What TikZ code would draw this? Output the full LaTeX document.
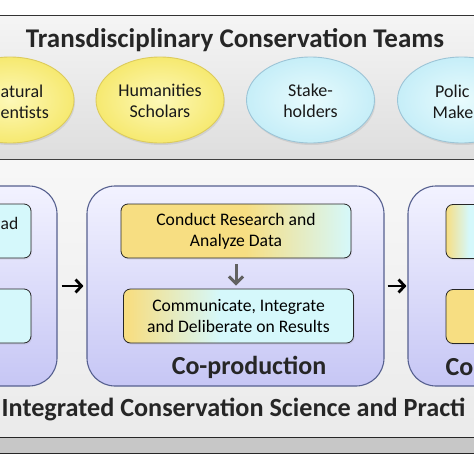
\documentclass[tikz,border=0pt]{standalone}
\usepackage{fontspec}
\setmainfont{Carlito}
\usetikzlibrary{shapes.geometric,shadows,arrows.meta}
\definecolor{yel}{HTML}{F7DE82}
\definecolor{cyn}{HTML}{D5F8FB}
\definecolor{boxline}{HTML}{56608F}
\definecolor{ovy1}{HTML}{FDF8B8}
\definecolor{ovy2}{HTML}{F6E970}
\definecolor{ovyb}{HTML}{DCCB5C}
\definecolor{ovc1}{HTML}{E8FBFD}
\definecolor{ovc2}{HTML}{C6EEF8}
\definecolor{ovcb}{HTML}{9CC4D6}
\pgfdeclarehorizontalshading{ycA}{100bp}{color(0bp)=(yel); color(52bp)=(yel); color(75bp)=(cyn); color(100bp)=(cyn)}
\pgfdeclarehorizontalshading{ycB}{100bp}{color(0bp)=(yel); color(26bp)=(yel); color(46bp)=(cyn); color(100bp)=(cyn)}
\pgfdeclarehorizontalshading{ycC}{100bp}{color(0bp)=(yel); color(25bp)=(yel); color(30bp)=(cyn); color(100bp)=(cyn)}
\tikzset{
  titletext/.style={font=\fontsize{27}{31}\selectfont\bfseries, text=black!85},
  ovaltext/.style={font=\fontsize{18}{21}\selectfont, text=black!90, align=center},
  oval/.style={ellipse, minimum width=128pt, minimum height=86pt, inner sep=0pt, line width=0.9pt,
    drop shadow={opacity=0.18, shadow xshift=1pt, shadow yshift=-2pt}},
  yoval/.style={oval, draw=ovyb, inner color=ovy1, outer color=ovy2},
  coval/.style={oval, draw=ovcb, inner color=ovc1, outer color=ovc2},
  bigbox/.style={rounded corners=28pt, draw=boxline, line width=1.1pt, minimum width=297pt, minimum height=200pt,
    top color=blue!5!white, bottom color=blue!19!white!96!black, inner sep=0pt},
  smallbox/.style={rounded corners=7pt, draw=black!85, line width=0.8pt, minimum width=230pt, minimum height=54pt,
    inner sep=0pt, font=\fontsize{17.6}{21}\selectfont, align=center,
    drop shadow={opacity=0.15, shadow xshift=1pt, shadow yshift=-1.5pt}},
  bigarrow/.style={-{Straight Barb[length=6pt,width=13pt]}, line width=2.8pt, black},
  grayarrow/.style={-{Straight Barb[length=7pt,width=14pt]}, line width=3pt, black!62},
}
\begin{document}
\begin{tikzpicture}[x=1pt,y=-1pt]
\useasboundingbox (0,0) rectangle (474,474);
\clip (0,0) rectangle (474,474);
% backgrounds
\fill[white] (0,0) rectangle (474,474);
\shade[top color=black!3, bottom color=black!8] (0,159) rectangle (474,437);
\shade[top color=black!4, bottom color=black!13] (0,15) rectangle (474,159);
\draw[black!80, line width=1pt] (0,15) -- (474,15);
\draw[black!75, line width=1pt] (0,159) -- (474,159);
\fill[black!22] (0,437) rectangle (474,453);
\draw[black!85, line width=1pt] (0,437) -- (474,437);
\draw[black!85, line width=1pt] (0,453) -- (474,453);

% top panel
\node[titletext] (ttitle) at (235,40) {Transdisciplinary Conservation Teams};
\node[yoval] (nat) at (10,100) {};
\node[yoval] (hum) at (160,100) {};
\node[coval] (stk) at (310.5,100) {};
\node[coval] (pol) at (461.5,100) {};
\node[ovaltext, anchor=west, inner sep=0pt] (nata) at (0.5,91) {atural};
\node[ovaltext, anchor=west, inner sep=0pt] (natb) at (0.5,112) {entists};
\node[ovaltext] (humt) at (160,101) {Humanities\\Scholars};
\node[ovaltext] (stkt) at (310.5,101) {Stake-\\holders};
\node[ovaltext, anchor=west, inner sep=0pt] (pola) at (435,91) {Polic};
\node[ovaltext, anchor=east, inner sep=0pt] (polb) at (473.5,112) {Make};

% big boxes
\node[bigbox] (lft) at (-91.5,286) {};
\node[bigbox] (mid) at (235.5,286) {};
\node[bigbox] (rgt) at (556.5,286) {};

% inner boxes
\node[smallbox, fill=cyn] (lt) at (-84,231) {};
\node[smallbox, fill=cyn] (lb) at (-84,316) {};
\node[ovaltext, font=\fontsize{17.6}{21}\selectfont, anchor=west, inner sep=0pt] (ltt) at (0.5,223) {ad};
\node[smallbox, shading=ycA] (mt) at (236,231) {Conduct Research and\\Analyze Data};
\node[smallbox, shading=ycB] (mb) at (238.5,316) {Communicate, Integrate\\and Deliberate on Results};
\node[smallbox, shading=ycC] (rt) at (561,231.5) {};
\node[smallbox, fill=yel] (rb) at (561,316.5) {};

\node[titletext, font=\fontsize{26}{30}\selectfont\bfseries] (cop) at (249,367) {Co-production};
\node[titletext, font=\fontsize{26}{30}\selectfont\bfseries, anchor=east, inner sep=0pt] (co) at (473.5,367) {Co};

% arrows
\draw[bigarrow, shorten <=4pt, shorten >=3pt] (lft.east) -- (mid.west);
\draw[bigarrow, shorten <=3pt, shorten >=1pt] (mid.east) -- (rgt.west);
\draw[grayarrow, shorten <=6pt, shorten >=3pt] (mt.south) -- (mt.south |- mb.north);

% bottom title
\node[titletext, font=\fontsize{26.2}{30}\selectfont\bfseries, anchor=west, inner sep=0pt] (btitle) at (1.5,410) {Integrated Conservation Science and Practi};
\end{tikzpicture}
\end{document}
